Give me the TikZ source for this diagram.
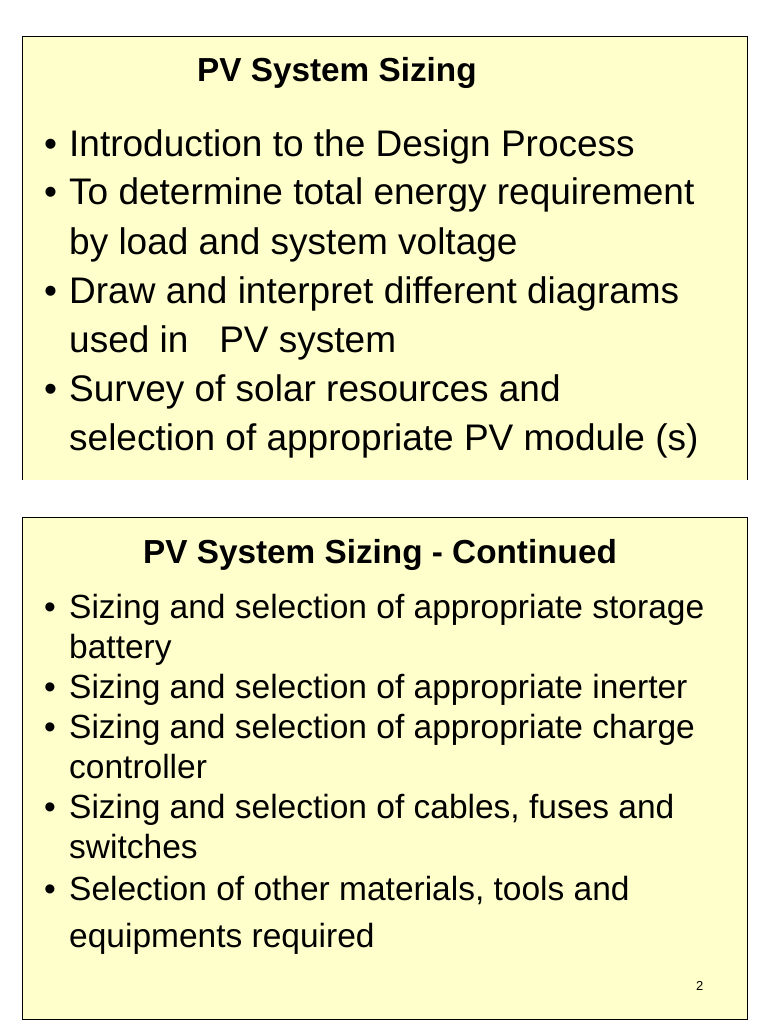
\documentclass[tikz,border=0pt]{standalone}
\usepackage{fontspec}
\setmainfont{Liberation Sans}
\definecolor{pale}{RGB}{255,255,204}
\begin{document}
\begin{tikzpicture}[x=1pt,y=-1pt,
  big/.style={anchor=base west,inner sep=0pt,font=\fontsize{37}{40}\selectfont},
  small/.style={anchor=base west,inner sep=0pt,font=\fontsize{33.5}{36}\selectfont},
  ttl/.style={anchor=base west,inner sep=0pt,font=\bfseries\fontsize{33.3}{36}\selectfont}]
\useasboundingbox (0,0) rectangle (768,1024);
\fill[white] (0,0) rectangle (768,1024);
\fill[pale] (22,37) rectangle (747,480);
\draw[line width=1pt] (22,480) -- (22,37) -- (747,37) -- (747,480);
\fill[pale,draw=black,line width=1pt] (22,517) rectangle (747,1019);
\node[ttl] (t1) at (197,82) {PV System Sizing};
\foreach \n/\y/\t in {a/157/Introduction to the Design Process,
  b/205/To determine total energy requirement,
  c/254/by load and system voltage,
  d/303/Draw and interpret different diagrams,
  e/352/used in\ \ \ PV system,
  f/401/Survey of solar resources and,
  g/450/selection of appropriate PV module (s)}
  \node[big] (\n) at (69,\y) {\t};
\foreach \y in {157,205,303,401} \node[big] at (44,\y) {•};
\node[ttl] (t2) at (143,563) {PV System Sizing - Continued};
\foreach \n/\y/\t in {h/618/Sizing and selection of appropriate storage,
  i/658/battery,
  j/698/Sizing and selection of appropriate inerter,
  k/738/Sizing and selection of appropriate charge,
  l/778/controller,
  m/818/Sizing and selection of cables{,} fuses and,
  n/858/switches,
  o/900/Selection of other materials{,} tools and,
  p/947/equipments required}
  \node[small] (\n) at (69,\y) {\t};
\foreach \y in {618,698,738,818,900} \node[small] at (44,\y) {•};
\node[anchor=base west,inner sep=0pt,font=\fontsize{13}{15}\selectfont] (pg) at (696,990) {2};
\end{tikzpicture}
\end{document}
